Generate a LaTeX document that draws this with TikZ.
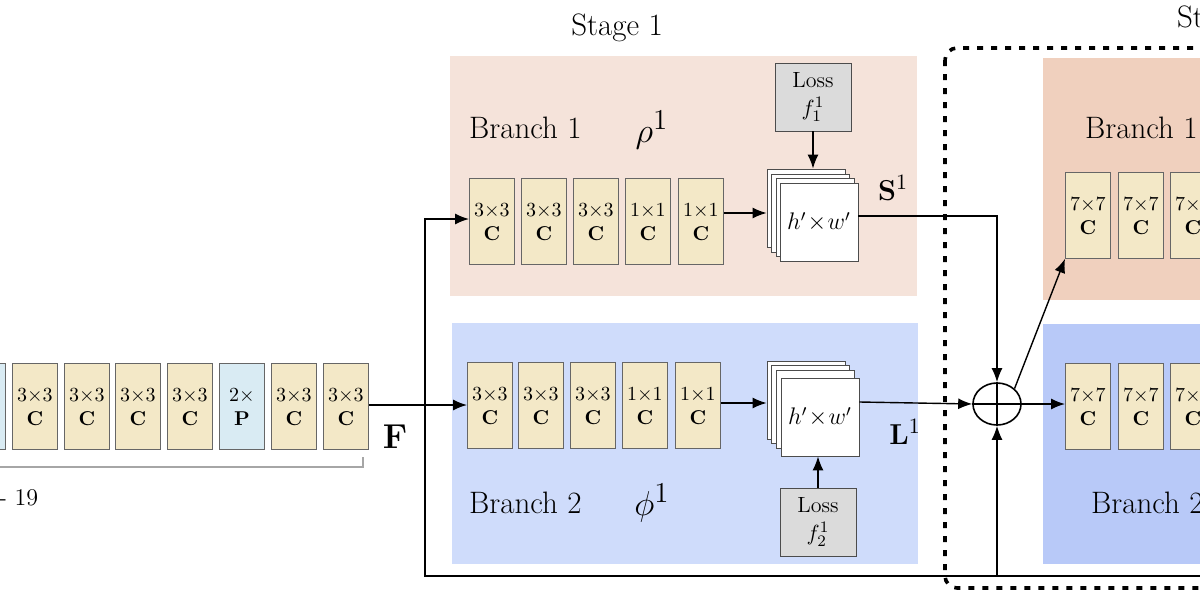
\documentclass[tikz,border=0pt]{standalone}
\usetikzlibrary{arrows.meta,shapes.geometric}
\begin{document}
\begin{tikzpicture}[x=0.5pt,y=-0.5pt,
  blk/.style={draw=black!60,fill=cy,minimum width=22.5pt,minimum height=43pt,inner sep=0pt,align=center,font=\fontsize{10}{12}\selectfont,anchor=north west},
  pbk/.style={blk,fill=pb},
  loss/.style={draw=black!70,fill=black!14,minimum width=38pt,minimum height=34pt,inner sep=0pt,align=center,font=\fontsize{11}{14}\selectfont},
  map/.style={draw=black!70,fill=white,minimum width=39pt,minimum height=39pt,inner sep=0pt},
  lbl/.style={font=\fontsize{15.5}{17}\selectfont},
  arr/.style={-{Latex[length=7pt,width=5.5pt]},line width=0.7pt},
  ln/.style={line width=0.7pt}]
\definecolor{cy}{HTML}{F3E8C7}
\definecolor{pb}{HTML}{D9EBF3}
\definecolor{o1}{HTML}{F5E3DA}
\definecolor{b1}{HTML}{CFDCFB}
\definecolor{o2}{HTML}{F0D0BE}
\definecolor{b2}{HTML}{B8C9F8}
\useasboundingbox (0,0) rectangle (1200,600);
% backgrounds
\fill[o1] (450,56) rectangle (917,296);
\fill[b1] (452,323) rectangle (918,564);
\fill[o2] (1043,58) rectangle (1205,300);
\fill[b2] (1043,324) rectangle (1205,564);
\draw[line width=1.8pt,dash pattern=on 3pt off 4pt,rounded corners=6pt] (945,48) rectangle (1215,588);
\node[lbl] (st1) at (617,28) {Stage 1};
\node[lbl,anchor=west] (st2) at (1170,20) {Stage 2};
% backbone
\node[pbk,minimum width=22.5pt] (b0) at (-40,363) {};
\node[blk] (a1) at (12,363) {3$\times$3\\$\mathbf{C}$};
\node[blk] (a2) at (64,363) {3$\times$3\\$\mathbf{C}$};
\node[blk] (a3) at (115,363) {3$\times$3\\$\mathbf{C}$};
\node[blk] (a4) at (167,363) {3$\times$3\\$\mathbf{C}$};
\node[pbk] (ap) at (219,363) {2$\times$\\$\mathbf{P}$};
\node[blk] (a6) at (271,363) {3$\times$3\\$\mathbf{C}$};
\node[blk] (a7) at (323,363) {3$\times$3\\$\mathbf{C}$};
\draw[black!35,line width=0.6pt] (-5,467) -- (363,467) -- (363,457);
\node[anchor=west,font=\fontsize{12}{13}\selectfont] (n19) at (-8,498) {- 19};
\node[font=\fontsize{18}{19}\selectfont] (F) at (395,437) {$\mathbf{F}$};
% branch 1
\node[lbl,anchor=west] (br1) at (462,128) {Branch 1};
\node[font=\fontsize{19}{20}\selectfont] (rho) at (652,130) {$\rho^1$};
\node[blk] (c1) at (469,178) {3$\times$3\\$\mathbf{C}$};
\node[blk] (c2) at (521,178) {3$\times$3\\$\mathbf{C}$};
\node[blk] (c3) at (573,178) {3$\times$3\\$\mathbf{C}$};
\node[blk] (c4) at (625,178) {1$\times$1\\$\mathbf{C}$};
\node[blk] (c5) at (678,178) {1$\times$1\\$\mathbf{C}$};
\node[map] (s3) at (806,208) {};
\node[map] (s2) at (810,213) {};
\node[map] (s1) at (815,217) {};
\node[map,font=\fontsize{12}{13}\selectfont] (S) at (819,222) {$h'\!\times\! w'$};
\node[loss] (L1) at (813,97) {Loss\\$f_1^1$};
\node[font=\fontsize{15}{16}\selectfont] (Slab) at (893,188) {$\mathbf{S}^1$};
% branch 2
\node[lbl,anchor=west] (br2) at (462,503) {Branch 2};
\node[font=\fontsize{19}{20}\selectfont] (phi) at (652,503) {$\phi^1$};
\node[blk] (d1) at (467,362) {3$\times$3\\$\mathbf{C}$};
\node[blk] (d2) at (518,362) {3$\times$3\\$\mathbf{C}$};
\node[blk] (d3) at (570,362) {3$\times$3\\$\mathbf{C}$};
\node[blk] (d4) at (622,362) {1$\times$1\\$\mathbf{C}$};
\node[blk] (d5) at (675,362) {1$\times$1\\$\mathbf{C}$};
\node[map] (t3) at (806,400) {};
\node[map] (t2) at (810,404) {};
\node[map] (t1) at (815,409) {};
\node[map,font=\fontsize{12}{13}\selectfont] (T) at (820,417) {$h'\!\times\! w'$};
\node[loss] (L2) at (818,522) {Loss\\$f_2^1$};
\node[font=\fontsize{15}{16}\selectfont] (Llab) at (905,432) {$\mathbf{L}^1$};
% plus
\node[draw,line width=0.8pt,ellipse,minimum width=24pt,minimum height=21pt,inner sep=0pt] (plus) at (997,404) {};
\draw[line width=0.8pt] (plus.north) -- (plus.south) (plus.west) -- (plus.east);
% stage 2
\node[lbl,anchor=west] (br3) at (1078,128) {Branch 1};
\node[lbl,anchor=west] (br4) at (1084,503) {Branch 2};
\node[blk] (e1) at (1065,172) {7$\times$7\\$\mathbf{C}$};
\node[blk] (e2) at (1118,172) {7$\times$7\\$\mathbf{C}$};
\node[blk] (e3) at (1170,172) {7$\times$7\\$\mathbf{C}$};
\node[blk] (g1) at (1065,363) {7$\times$7\\$\mathbf{C}$};
\node[blk] (g2) at (1118,363) {7$\times$7\\$\mathbf{C}$};
\node[blk] (g3) at (1170,363) {7$\times$7\\$\mathbf{C}$};
% connectors
\coordinate (f0) at (a7.east |- 0,405);
\coordinate (fs) at (425,405);
\coordinate (bot) at (1210,576);
\draw[arr] (f0) -- (d1.west |- f0);
\draw[arr] (fs) |- (c1.west |- 0,219);
\draw[ln] (fs) |- (bot);
\draw[arr] (plus.south |- bot) -- (plus.south);
\draw[arr] (c5.east |- 0,213) -- (s3.west |- 0,213);
\draw[arr] (d5.east |- 0,403) -- (t3.west |- 0,403);
\draw[arr] (L1.south) -- (s3.north -| L1.south);
\draw[arr] (L2.north) -- (T.south -| L2.north);
\draw[arr] (S.east |- 0,216) -| (plus.north);
\draw[arr] (T.east |- 0,402) -- (plus.west);
\draw[arr] (plus.north east) -- (e1.south west);
\draw[arr] (plus.east) -- (g1.west |- plus.east);
\end{tikzpicture}
\end{document}
